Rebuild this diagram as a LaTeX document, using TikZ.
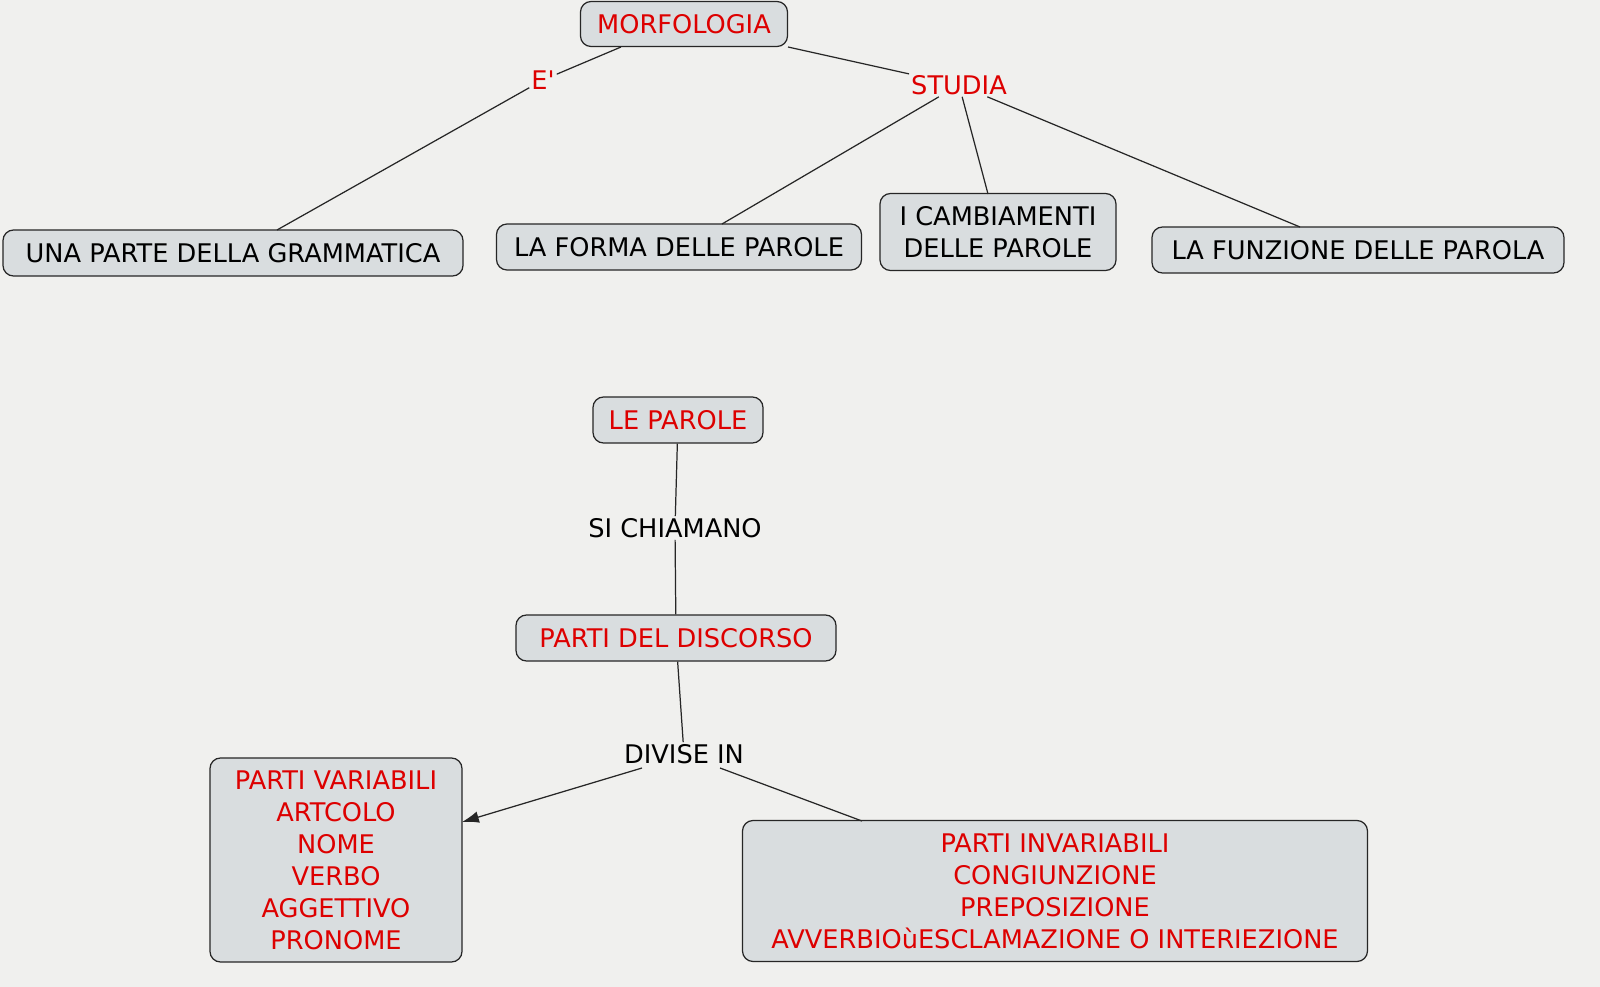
\documentclass[tikz,border=0pt]{standalone}
\usepackage{fontspec}
\setmainfont{DejaVu Sans}[Ligatures=NoCommon]
\usetikzlibrary{arrows.meta}
\definecolor{bg}{HTML}{F0F0EE}
\definecolor{boxf}{HTML}{D9DDDF}
\definecolor{tred}{HTML}{DD0000}
\begin{document}
\begin{tikzpicture}[x=0.02cm,y=-0.02cm,
  box/.style={draw=black!85,fill=boxf,rounded corners=6pt,line width=0.7pt,align=center,inner sep=0pt,font=\fontsize{14.6}{18.2}\selectfont},
  lab/.style={fill=bg,inner sep=1pt,font=\fontsize{14.6}{18.2}\selectfont},
  ln/.style={draw=black!85,line width=0.7pt}]
\fill[bg] (0,0) rectangle (1600,987);
\useasboundingbox (0,0) rectangle (1600,987);
\node[box,text=tred,minimum width=207*0.02cm,minimum height=45*0.02cm] (morf) at (684,24) {MORFOLOGIA};
\node[box,minimum width=460*0.02cm,minimum height=46*0.02cm] (una) at (233,253) {UNA PARTE DELLA GRAMMATICA};
\node[box,minimum width=365*0.02cm,minimum height=46*0.02cm] (forma) at (679,247) {LA FORMA DELLE PAROLE};
\node[box,minimum width=236*0.02cm,minimum height=77*0.02cm] (camb) at (998,232) {I CAMBIAMENTI\\DELLE PAROLE};
\node[box,minimum width=412*0.02cm,minimum height=46*0.02cm] (funz) at (1358,250) {LA FUNZIONE DELLE PAROLA};
\node[box,text=tred,minimum width=170*0.02cm,minimum height=46*0.02cm] (parole) at (678,420) {LE PAROLE};
\node[box,text=tred,minimum width=320*0.02cm,minimum height=46*0.02cm] (pdd) at (676,638) {PARTI DEL DISCORSO};
\node[box,text=tred,minimum width=252*0.02cm,minimum height=204*0.02cm] (var) at (336,860) {PARTI VARIABILI\\ARTCOLO\\NOME\\VERBO\\AGGETTIVO\\PRONOME};
\node[box,text=tred,minimum width=625*0.02cm,minimum height=141*0.02cm] (inv) at (1055,891) {PARTI INVARIABILI\\CONGIUNZIONE\\PREPOSIZIONE\\AVVERBIOùESCLAMAZIONE O INTERIEZIONE};
\node[lab,text=tred] (e) at (543,80) {E\textquotesingle};
\node[lab,text=tred] (studia) at (959,85) {STUDIA};
\node[lab] (sic) at (675,528) {SI CHIAMANO};
\node[lab] (div) at (684,754) {DIVISE IN};
\coordinate (m1) at (621,47); \coordinate (m2) at (788,47);
\coordinate (u1) at (277,230); \coordinate (f1) at (722,224);
\coordinate (c1) at (988,194); \coordinate (z1) at (1300,227);
\coordinate (v1) at (462,822); \coordinate (i1) at (862,821);
\coordinate (d1) at (642,768); \coordinate (d2) at (720,768);
\draw[ln] (m1) -- (e); \draw[ln] (e) -- (u1);
\draw[ln] (m2) -- (studia);
\draw[ln] (studia) -- (f1); \draw[ln] (studia) -- (c1); \draw[ln] (studia) -- (z1);
\draw[ln] (parole) -- (sic); \draw[ln] (sic) -- (pdd);
\draw[ln] (pdd) -- (div);
\draw[ln,-{Latex[length=16pt*0.6,width=11pt*0.6]}] (d1) -- (v1);
\draw[ln] (d2) -- (i1);
\end{tikzpicture}
\end{document}
